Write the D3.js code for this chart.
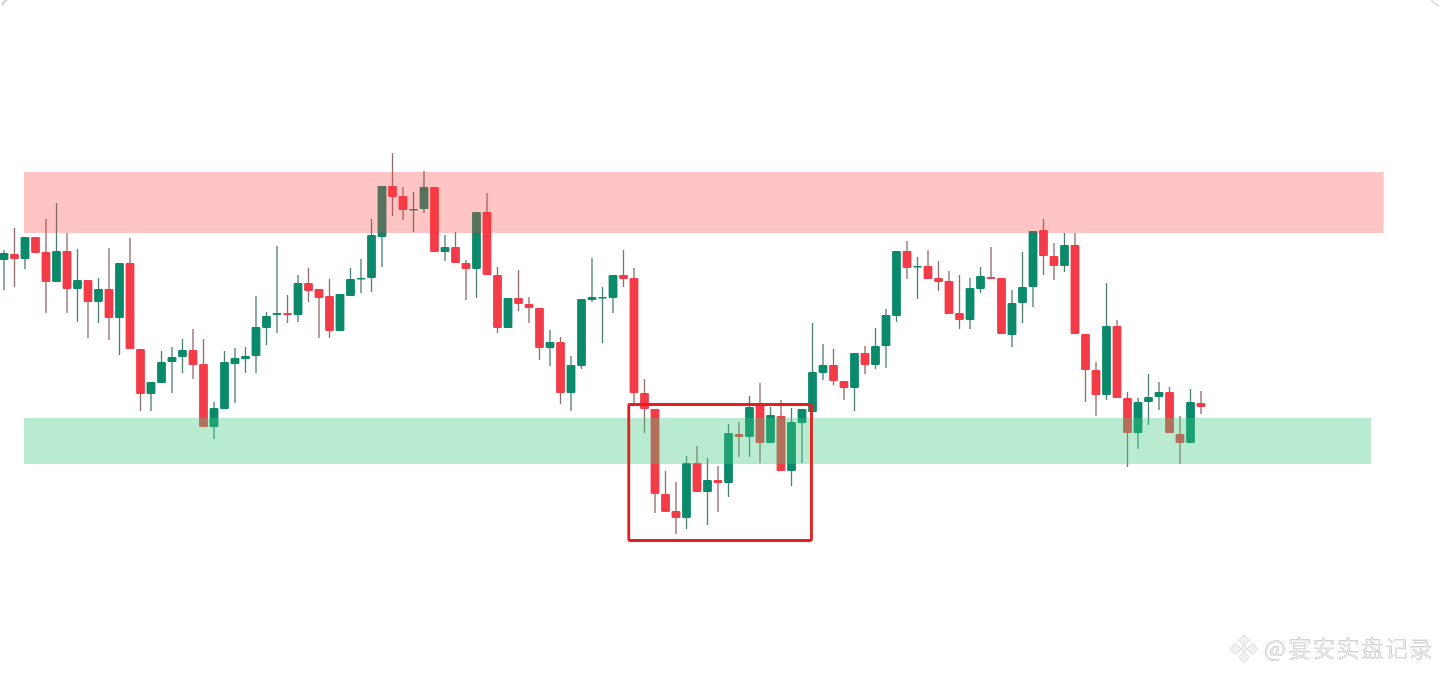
<!DOCTYPE html>
<html>
<head>
<meta charset="utf-8">
<script src="https://cdn.jsdelivr.net/npm/d3@7"></script>
<style>
  html, body { margin: 0; padding: 0; background: #fff; overflow: hidden; }
  svg { display: block; }
</style>
</head>
<body>
<div id="chart"></div>
<script>
// candle values (arbitrary price units)
const highs = [425,447,438,438,456,472,442,426,395,397,427,412,437,326,293,324,328,336,346,336,273,324,327,328,379,363,429,380,400,407,386,396,381,407,416,456,489,522,488,483,504,488,440,443,415,463,482,408,377,405,378,367,345,338,319,376,417,388,400,425,407,296,266,204,193,219,229,217,209,251,253,279,292,268,275,267,266,352,331,326,294,322,329,347,366,424,434,418,425,414,404,400,397,408,428,397,385,423,444,456,432,442,442,341,313,392,355,283,277,301,293,288,259,286,284];
const lows = [385,388,406,422,362,393,362,353,337,352,335,320,326,264,264,292,282,302,296,248,236,266,272,302,302,330,342,352,353,373,337,337,344,379,382,383,408,459,455,443,462,423,414,412,375,377,400,342,347,364,352,315,309,271,264,306,373,332,362,388,270,242,162,163,141,146,183,150,163,178,218,218,212,232,204,189,212,263,295,290,275,264,301,306,307,353,396,376,396,384,361,346,346,382,396,341,328,352,368,400,395,403,341,273,259,275,277,208,226,250,265,242,211,232,261];
const opens = [415,421,416,438,423,393,424,386,395,373,386,357,412,326,281,292,313,318,325,311,248,266,311,316,319,347,360,362,360,392,386,379,344,379,396,397,438,489,479,465,466,488,423,428,412,406,463,400,347,377,371,367,327,333,282,309,375,377,377,400,397,282,266,181,164,157,212,183,195,192,241,238,270,232,259,204,252,263,302,310,294,287,322,310,329,359,424,408,409,397,394,362,355,386,398,397,340,372,388,445,419,409,430,341,305,280,349,277,242,273,278,283,241,232,272];
const closes = [422,416,438,422,393,424,386,395,373,386,357,412,326,281,293,313,318,325,310,248,267,313,317,319,348,359,362,360,392,384,377,344,381,396,397,440,489,478,465,466,488,423,428,412,406,463,400,347,377,371,367,327,333,282,310,376,378,378,400,396,282,266,181,163,157,212,183,195,192,242,238,268,232,260,204,253,266,303,310,294,287,322,310,329,360,424,407,409,396,393,361,355,387,399,396,341,372,388,444,419,409,430,341,305,280,349,277,242,273,278,283,242,232,273,268];

// the two zones and the marked box, [from, to] in candle index and price
const supplyZoneIndex = [1.9, 131.4];
const supplyZonePrice = [442, 503];
const demandZoneIndex = [1.9, 130.2];
const demandZonePrice = [211, 257];
const boxIndex = [59.5, 76.9];
const boxPrice = [134.5, 270.5];

const watermarkText = "@ 宴安实盘记录";

(function () {

  const width = 1440, height = 675;
  const bodyWidth = 8.8;

  const upColor = "#0b8a6b", downColor = "#f43c48";
  const upWick = "#4a7f72", downWick = "#8f6a6d";

  const svg = d3.select("#chart")
    .append("svg")
    .attr("width", width)
    .attr("height", height);

  const x = d3.scaleLinear().domain([0, highs.length - 1]).range([4, 1201]);
  const y = d3.scaleLinear().domain([0, 675]).range([675, 0]);

  const candles = highs.map((h, i) => ({
    i, high: h, low: lows[i], open: opens[i], close: closes[i]
  }));

  // wicks
  svg.selectAll(".wick")
    .data(candles)
    .enter()
    .append("line")
    .attr("class", "wick")
    .attr("x1", d => x(d.i))
    .attr("x2", d => x(d.i))
    .attr("y1", d => y(d.high))
    .attr("y2", d => y(d.low))
    .attr("stroke", d => d.close >= d.open ? upWick : downWick)
    .attr("stroke-width", 1.3);

  // bodies
  svg.selectAll(".body")
    .data(candles)
    .enter()
    .append("rect")
    .attr("class", "body")
    .attr("x", d => x(d.i) - bodyWidth / 2)
    .attr("width", bodyWidth)
    .attr("y", d => y(Math.max(d.open, d.close)))
    .attr("height", d => Math.max(1.5, Math.abs(y(d.open) - y(d.close))))
    .attr("rx", 1.2)
    .attr("fill", d => d.close >= d.open ? upColor : downColor);

  // translucent zones sit over the candles
  svg.append("rect")
    .attr("x", x(supplyZoneIndex[0]))
    .attr("width", x(supplyZoneIndex[1]) - x(supplyZoneIndex[0]))
    .attr("y", y(supplyZonePrice[1]))
    .attr("height", y(supplyZonePrice[0]) - y(supplyZonePrice[1]))
    .attr("fill", "#ff3b3b")
    .attr("fill-opacity", 0.3);

  svg.append("rect")
    .attr("x", x(demandZoneIndex[0]))
    .attr("width", x(demandZoneIndex[1]) - x(demandZoneIndex[0]))
    .attr("y", y(demandZonePrice[1]))
    .attr("height", y(demandZonePrice[0]) - y(demandZonePrice[1]))
    .attr("fill", "#3fc980")
    .attr("fill-opacity", 0.37);

  // red box
  svg.append("rect")
    .attr("x", x(boxIndex[0]))
    .attr("width", x(boxIndex[1]) - x(boxIndex[0]))
    .attr("y", y(boxPrice[1]))
    .attr("height", y(boxPrice[0]) - y(boxPrice[1]))
    .attr("rx", 1)
    .attr("fill", "none")
    .attr("stroke", "#e3201f")
    .attr("stroke-width", 2.8);

  // watermark
  const mark = svg.append("g")
    .attr("transform", "translate(1244,649)")
    .style("filter", "drop-shadow(0.7px 0.7px 0.5px #808080)");

  [[0, -8.5, 3.8], [-8.5, 0, 3.8], [8.5, 0, 3.8], [0, 8.5, 3.8], [0, 0, 2.6]].forEach(p => {
    mark.append("rect")
      .attr("x", p[0] - p[2])
      .attr("y", p[1] - p[2])
      .attr("width", p[2] * 2)
      .attr("height", p[2] * 2)
      .attr("transform", `rotate(45 ${p[0]} ${p[1]})`)
      .attr("fill", "#f1f1f1");
  });

  svg.append("text")
    .attr("x", 1264)
    .attr("y", 657)
    .attr("font-family", "'Noto Sans CJK SC', sans-serif")
    .attr("font-size", 23)
    .attr("letter-spacing", 1.2)
    .attr("word-spacing", -5)
    .attr("fill", "#ececec")
    .style("filter", "drop-shadow(0.7px 0.7px 0.5px #777)")
    .text(watermarkText);

  // rounded screenshot corners
  svg.append("path")
    .attr("d", "M7,0 Q4,1 2,5")
    .attr("fill", "none")
    .attr("stroke", "#cfcfcf")
    .attr("stroke-width", 2);

  svg.append("path")
    .attr("d", "M1431,0 Q1434,4 1439,6")
    .attr("fill", "none")
    .attr("stroke", "#dddddd")
    .attr("stroke-width", 2);

})();
</script>
</body>
</html>
